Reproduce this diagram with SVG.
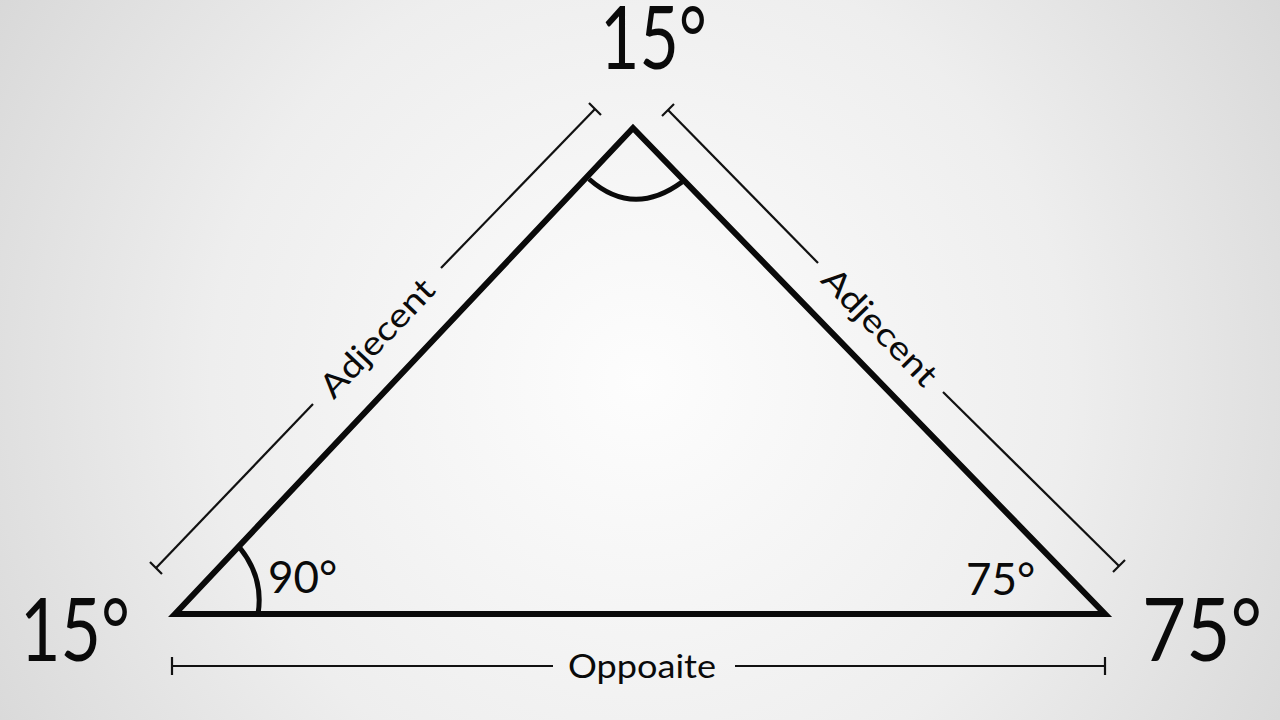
<svg xmlns="http://www.w3.org/2000/svg" width="1280" height="720" viewBox="0 0 1280 720">
  <defs>
    <radialGradient id="bg" cx="640" cy="380" r="780" gradientUnits="userSpaceOnUse">
      <stop offset="0" stop-color="#fdfdfd"/>
      <stop offset="0.55" stop-color="#eeeeee"/>
      <stop offset="1" stop-color="#d6d6d6"/>
    </radialGradient>
    <style>
      .tri { fill: none; stroke: #0a0a0a; stroke-width: 6; stroke-linejoin: miter; }
      .arc { fill: none; stroke: #0a0a0a; stroke-width: 5; }
      .dim { fill: none; stroke: #111; stroke-width: 2.2; }
      .big { font-family: Lato, "Noto Sans", "Liberation Sans", sans-serif; font-size: 88px; fill: #0a0a0a; }
      .mid { font-family: Lato, "Noto Sans", "Liberation Sans", sans-serif; font-size: 44px; fill: #0a0a0a; }
      .lbl { font-family: Lato, "Noto Sans", "Liberation Sans", sans-serif; font-size: 33px; fill: #0a0a0a; text-anchor: middle; dominant-baseline: central; }
    </style>
  </defs>
  <rect width="1280" height="720" fill="url(#bg)"/>

  <g id="triangle">
    <polygon class="tri" points="175,614 633,128 1105,614"/>
  </g>

  <g id="angle-top">
    <path class="arc" d="M589,179 Q633,218 682,182"/>
    <text class="big" x="600" y="69" textLength="107" lengthAdjust="spacingAndGlyphs">15°</text>
  </g>

  <g id="angle-left">
    <path class="arc" d="M240,548 Q264,578 258,614"/>
    <text class="mid" x="268" y="593">90°</text>
    <text class="big" x="20" y="661" textLength="110" lengthAdjust="spacingAndGlyphs">15°</text>
  </g>

  <g id="angle-right">
    <text class="mid" x="966" y="595">75°</text>
    <text class="big" x="1142" y="661" textLength="120" lengthAdjust="spacingAndGlyphs">75°</text>
  </g>

  <g id="connectors">
    <!-- left dimension -->
    <line class="dim" x1="156" y1="568" x2="313" y2="404"/>
    <line class="dim" x1="441" y1="268" x2="595" y2="109"/>
    <line class="dim" x1="150" y1="562" x2="162" y2="574"/>
    <line class="dim" x1="589" y1="103" x2="601" y2="115"/>
    <!-- right dimension -->
    <line class="dim" x1="668" y1="110" x2="818" y2="263"/>
    <line class="dim" x1="943" y1="392" x2="1119" y2="566"/>
    <line class="dim" x1="662" y1="116" x2="674" y2="104"/>
    <line class="dim" x1="1113" y1="572" x2="1125" y2="560"/>
    <!-- bottom dimension -->
    <line class="dim" x1="172" y1="666" x2="553" y2="666"/>
    <line class="dim" x1="735" y1="666" x2="1105" y2="666"/>
    <line class="dim" x1="172" y1="657" x2="172" y2="675"/>
    <line class="dim" x1="1105" y1="657" x2="1105" y2="675"/>
  </g>

  <g id="label-left">
    <text class="lbl" transform="translate(376,337) rotate(-46.5)" textLength="150" lengthAdjust="spacingAndGlyphs">Adjecent</text>
  </g>
  <g id="label-right">
    <text class="lbl" transform="translate(881,326) rotate(45.8)" textLength="150" lengthAdjust="spacingAndGlyphs">Adjecent</text>
  </g>
  <g id="label-bottom">
    <text class="lbl" x="642" y="665" textLength="148" lengthAdjust="spacingAndGlyphs">Oppoaite</text>
  </g>
</svg>
